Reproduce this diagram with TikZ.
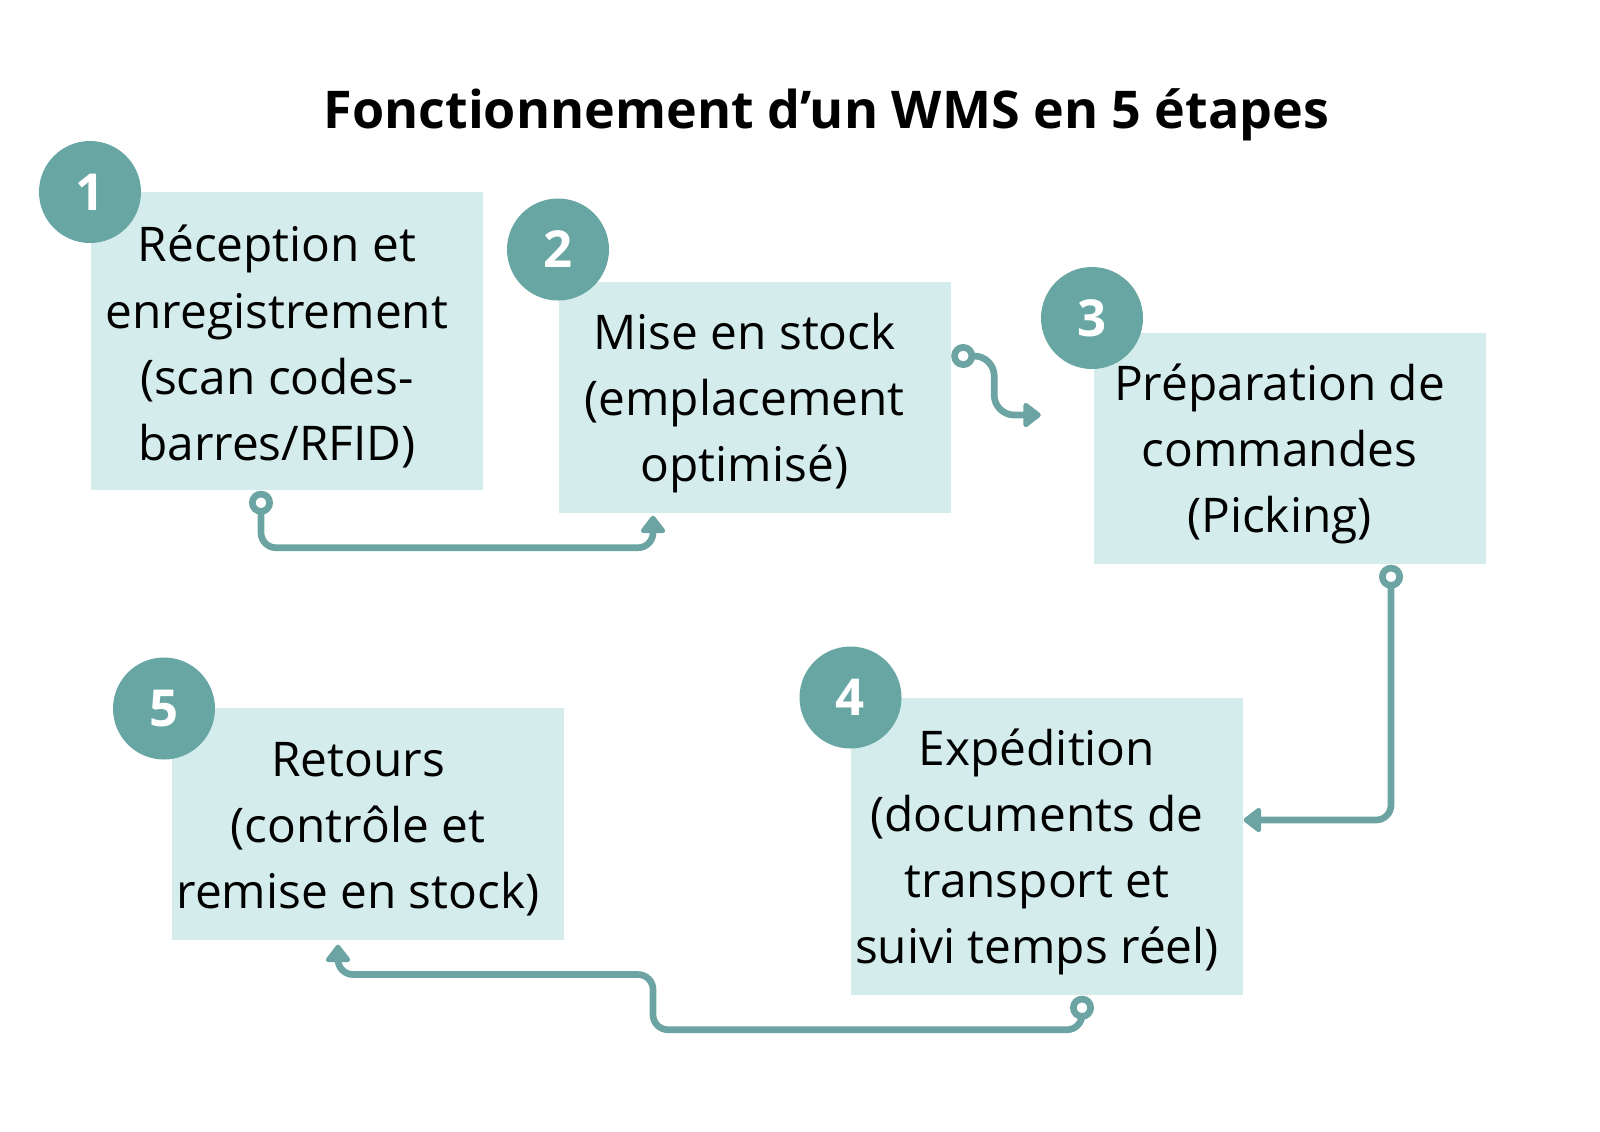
\documentclass[tikz,border=0pt]{standalone}
\usepackage{fontspec}
\setmainfont{Open Sans}
\usetikzlibrary{arrows.meta}

\definecolor{wmsteal}{HTML}{68A6A4}
\definecolor{wmsline}{HTML}{6CA3A3}
\definecolor{wmsbox}{HTML}{D4ECEC}

\begin{document}
\begin{tikzpicture}
[
	stepbox/.style={rectangle,fill=wmsbox,minimum width=3.92cm,inner sep=0pt},
	steptext/.style={align=center,inner sep=0pt,font=\fontsize{13.6}{18.8}\selectfont},
	stepnum/.style={circle,fill=wmsteal,minimum size=1.02cm,inner sep=0pt,text=white,font=\fontsize{14.5}{17}\selectfont\bfseries},
	link/.style={wmsline,line width=1.9pt,rounded corners=0.15cm,{Circle[open,length=0.24cm]}-{Triangle[round,length=0.19cm,width=0.28cm]}}
]

	\useasboundingbox (0,0) rectangle (16,-11.31);

	% title
	\node[anchor=base,font=\fontsize{14.8}{17}\selectfont\bfseries] (title) at (8.265,-1.285) {Fonctionnement d’un WMS en 5 étapes};

	% boxes
	\node[stepbox,minimum height=2.98cm] (b1) at (2.87,-3.41) {};
	\node[stepbox,minimum height=2.31cm] (b2) at (7.545,-3.975) {};
	\node[stepbox,minimum height=2.31cm] (b3) at (12.895,-4.485) {};
	\node[stepbox,minimum height=2.97cm] (b4) at (10.47,-8.465) {};
	\node[stepbox,minimum height=2.32cm] (b5) at (3.68,-8.24) {};

	% texts
	\node[steptext] (t1) at ([shift={(-0.1,-0.055)}]b1.center) {Réception et\\enregistrement\\(scan codes-\\barres/RFID)};
	\node[steptext] (t2) at ([shift={(-0.1,-0.055)}]b2.center) {Mise en stock\\(emplacement\\optimisé)};
	\node[steptext] (t3) at ([shift={(-0.1,-0.055)}]b3.center) {Préparation de\\commandes\\(Picking)};
	\node[steptext] (t4) at ([shift={(-0.1,-0.055)}]b4.center) {Expédition\\(documents de\\transport et\\suivi temps réel)};
	\node[steptext] (t5) at ([shift={(-0.1,-0.055)}]b5.center) {Retours\\(contrôle et\\remise en stock)};

	% numbers
	\foreach \n/\x/\y in {1/0.90/-1.92, 2/5.58/-2.495, 3/10.92/-3.18, 4/8.505/-6.975, 5/1.64/-7.085} {
		\node[stepnum] (n\n) at (\x,\y) {\n};
	}

	% connectors
	\coordinate (s1) at ([xshift=-0.26cm]b1.south);
	\coordinate (e2) at ([xshift=-1.015cm,yshift=-0.02cm]b2.south);
	\draw[link] (s1) -- ++(0,-0.57) -| (e2);

	\coordinate (s2) at ([yshift=0.415cm]b2.east);
	\coordinate (e3) at ([shift={(-0.52,0.335)}]b3.west);
	\draw[link,rounded corners=0.2cm] (s2) -- ++(0.43,0) |- (e3);

	\coordinate (s3) at ([xshift=1.015cm]b3.south);
	\coordinate (e4) at ([yshift=0.265cm]b4.east);
	\draw[link] (s3) |- (e4);

	\coordinate (s4) at ([xshift=0.35cm]b4.south);
	\coordinate (m45) at (6.53,-9.745);
	\coordinate (e5) at ([xshift=-0.30cm,yshift=-0.04cm]b5.south);
	\draw[link] (s4) -- ++(0,-0.34) -| (m45) -| (e5);

\end{tikzpicture}
\end{document}
